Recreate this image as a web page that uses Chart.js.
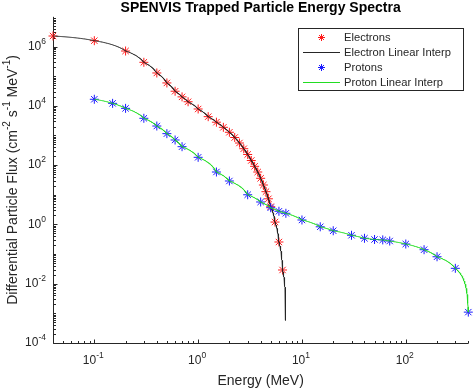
<!DOCTYPE html>
<html><head><meta charset="utf-8">
<script src="https://cdn.jsdelivr.net/npm/chart.js@4.4.0/dist/chart.umd.min.js"></script>
<style>html,body{margin:0;padding:0;background:#fff;} #wrap{width:474px;height:389px;position:relative;}</style>
</head><body><div id="wrap"><canvas id="c" width="474" height="389"></canvas></div>
<script>
// ---- data ----
const electronEnergy = [0.04,0.1,0.2,0.3,0.4,0.5,0.6,0.7,0.8,1.0,1.25,1.5,1.75,2.0,2.25,2.5,2.75,3.0,3.25,3.5,3.75,4.0,4.25,4.5,4.75,5.0,5.5,6.0,6.5,7.0];
const electronFlux = [2.26e6,1.57e6,7.05e5,2.93e5,1.28e5,5.9e4,3.1e4,2.0e4,1.37e4,7.8e3,4.3e3,2.8e3,1.88e3,1.28e3,853,556,357,228,143,91,58.5,35.9,21.3,12.7,7.3,3.95,1.2,0.255,0.029,0];
const protonEnergy = [0.1,0.15,0.2,0.3,0.4,0.5,0.6,0.7,1,1.5,2,3,4,5,6,7,10,15,20,30,40,50,60,70,100,150,200,300,400];
const protonFlux = [1.66e4,1.21e4,8.2e3,3.79e3,2.08e3,1.15e3,703,418,183,58.5,29.1,10.0,5.7,3.65,2.77,2.37,1.41,0.83,0.61,0.43,0.34,0.31,0.30,0.275,0.218,0.14,0.081,0.033,0.0011];
const xTickExponents = [-1,0,1,2];
const yTickExponents = [-4,-2,0,2,4,6];
const legendLabels = ['Electrons','Electron Linear Interp','Protons','Proton Linear Interp'];
const chartTitle = 'SPENVIS Trapped Particle Energy Spectra';
const xAxisTitle = 'Energy (MeV)';
const yAxisTitleParts = [['Differential Particle Flux (cm',0],['-2',1],[' s',0],['-1',1],[' MeV',0],['-1',1],[')',0]];

const FONT = '"Liberation Sans", Arial, sans-serif';
const AX = '#262626';
const RED = '#ff1a1a', BLUE = '#1a1aff', BLACK = '#262626', GREEN = '#22dd22';

// linear interpolation of the tabulated spectra (what the "Linear Interp" series are)
function linInterp(xs, ys, n) {
  const out = [];
  for (let i = 0; i < xs.length - 1; i++) {
    for (let k = 0; k < n; k++) {
      const t = k / n;
      const x = xs[i] + (xs[i+1]-xs[i]) * t;
      const y = ys[i] + (ys[i+1]-ys[i]) * t;
      if (y > 0) out.push({x, y});
    }
  }
  const l = ys.length - 1;
  if (ys[l] > 0) out.push({x: xs[l], y: ys[l]});
  return out;
}
function pts(xs, ys) { return xs.map((x,i)=>({x, y: ys[i] > 0 ? ys[i] : null})).filter(p=>p.y!==null); }

function drawSup(ctx, parts, x, y, align, bs, es) {
  let total = 0; const widths = [];
  for (const [t, s] of parts) { ctx.font = (s ? es : bs) + 'px ' + FONT; const w = ctx.measureText(t).width; widths.push(w); total += w; }
  let x0 = align === 'center' ? x - total/2 : align === 'right' ? x - total : x;
  ctx.textAlign = 'left'; ctx.textBaseline = 'middle';
  parts.forEach(([t, s], i) => {
    ctx.font = (s ? es : bs) + 'px ' + FONT;
    ctx.fillText(t, x0, s ? y - bs*0.42 : y);
    x0 += widths[i];
  });
}

const decorPlugin = {
  id: 'decor',
  beforeDatasetsDraw(chart) {
    const ctx = chart.ctx, a = chart.chartArea, xs = chart.scales.x, ys = chart.scales.y;
    ctx.save();
    ctx.strokeStyle = AX; ctx.lineWidth = 1;
    const L = Math.round(a.left) + 0.5, B = Math.round(a.bottom) + 0.5;
    ctx.beginPath();
    ctx.moveTo(L, a.top); ctx.lineTo(L, B);
    ctx.lineTo(a.right, B);
    ctx.stroke();
    ctx.beginPath();
    for (let e = -2; e <= 2; e++) {
      for (let m = 1; m <= 9; m++) {
        const v = m * Math.pow(10, e);
        if (v < 0.04 - 1e-9 || v > 400 + 1e-9) continue;
        const px = Math.round(xs.getPixelForValue(v)) + 0.5;
        const len = m === 1 ? 4 : 2.5;
        ctx.moveTo(px, B); ctx.lineTo(px, B - len);
      }
    }
    for (let e = -4; e <= 6; e++) {
      for (let m = 1; m <= 9; m++) {
        const v = m * Math.pow(10, e);
        if (v > 1e7) continue;
        const py = Math.round(ys.getPixelForValue(v)) + 0.5;
        const len = (m === 1 && yTickExponents.includes(e)) ? 4 : 2.5;
        ctx.moveTo(L, py); ctx.lineTo(L + len, py);
      }
    }
    ctx.stroke();
    ctx.restore();
  },
  afterDraw(chart) {
    const ctx = chart.ctx, a = chart.chartArea, xs = chart.scales.x, ys = chart.scales.y;
    ctx.save();
    ctx.fillStyle = AX;
    for (const e of xTickExponents) {
      const px = xs.getPixelForValue(Math.pow(10, e));
      drawSup(ctx, [['10',0],[String(e),1]], px - 1, a.bottom + 18, 'center', 12, 8.5);
    }
    for (const e of yTickExponents) {
      const py = ys.getPixelForValue(Math.pow(10, e));
      drawSup(ctx, [['10',0],[String(e),1]], a.left - 7, py, 'right', 12, 8.5);
    }
    drawSup(ctx, [[xAxisTitle,0]], (a.left + a.right)/2, 381, 'center', 14, 10);
    ctx.save();
    ctx.translate(13, (a.top + a.bottom)/2);
    ctx.rotate(-Math.PI/2);
    drawSup(ctx, yAxisTitleParts, 0, 0, 'center', 14, 10);
    ctx.restore();
    ctx.fillStyle = '#000';
    ctx.font = 'bold 14px ' + FONT; ctx.textAlign = 'center'; ctx.textBaseline = 'middle';
    ctx.fillText(chartTitle, (a.left + a.right)/2, 8);
    // legend
    const bx = 298.5, by = 28.5, bw = 165, bh = 62;
    ctx.fillStyle = '#fff'; ctx.fillRect(bx, by, bw, bh);
    ctx.strokeStyle = AX; ctx.lineWidth = 1; ctx.strokeRect(bx, by, bw, bh);
    const rows = [37, 52, 67, 82];
    const styles = [{type:'pt', c: RED}, {type:'ln', c: BLACK}, {type:'pt', c: BLUE}, {type:'ln', c: GREEN}];
    styles.forEach((s, i) => {
      const y = rows[i];
      ctx.strokeStyle = s.c; ctx.lineWidth = 1;
      ctx.beginPath();
      if (s.type === 'ln') {
        ctx.moveTo(303, y + 0.5); ctx.lineTo(340, y + 0.5);
      } else {
        const r = 3.5, cx = 321.5, cy = y + 0.5, d = r * Math.SQRT1_2;
        ctx.moveTo(cx - r, cy); ctx.lineTo(cx + r, cy);
        ctx.moveTo(cx, cy - r); ctx.lineTo(cx, cy + r);
        ctx.moveTo(cx - d, cy - d); ctx.lineTo(cx + d, cy + d);
        ctx.moveTo(cx - d, cy + d); ctx.lineTo(cx + d, cy - d);
      }
      ctx.stroke();
      ctx.fillStyle = AX; ctx.font = '11.2px ' + FONT; ctx.textAlign = 'left'; ctx.textBaseline = 'middle';
      ctx.fillText(legendLabels[i], 344, y + 0.5);
    });
    ctx.restore();
  }
};

new Chart(document.getElementById('c'), {
  type: 'scatter',
  data: {
    datasets: [
      {label: legendLabels[3], data: linInterp(protonEnergy, protonFlux, 60), showLine: true, borderColor: GREEN, backgroundColor: GREEN, borderWidth: 1, pointRadius: 0, clip: false},
      {label: legendLabels[2], data: pts(protonEnergy, protonFlux), showLine: false, pointStyle: 'star', pointRadius: 4.5, borderColor: BLUE, backgroundColor: BLUE, borderWidth: 1, clip: false},
      {label: legendLabels[1], data: linInterp(electronEnergy, electronFlux, 50), showLine: true, borderColor: BLACK, backgroundColor: BLACK, borderWidth: 1, pointRadius: 0, clip: false},
      {label: legendLabels[0], data: pts(electronEnergy, electronFlux), showLine: false, pointStyle: 'star', pointRadius: 4.5, borderColor: RED, backgroundColor: RED, borderWidth: 1, clip: false}
    ]
  },
  options: {
    responsive: false, animation: false, devicePixelRatio: 1, events: [],
    layout: {padding: {left: 53, right: 5.7, top: 16.85, bottom: 46}},
    plugins: {legend: {display: false}, title: {display: false}, tooltip: {enabled: false}},
    scales: {
      x: {type: 'logarithmic', min: 0.04, max: 400, display: false},
      y: {type: 'logarithmic', min: 1e-4, max: 1e7, display: false}
    }
  },
  plugins: [decorPlugin]
});
</script></body></html>
